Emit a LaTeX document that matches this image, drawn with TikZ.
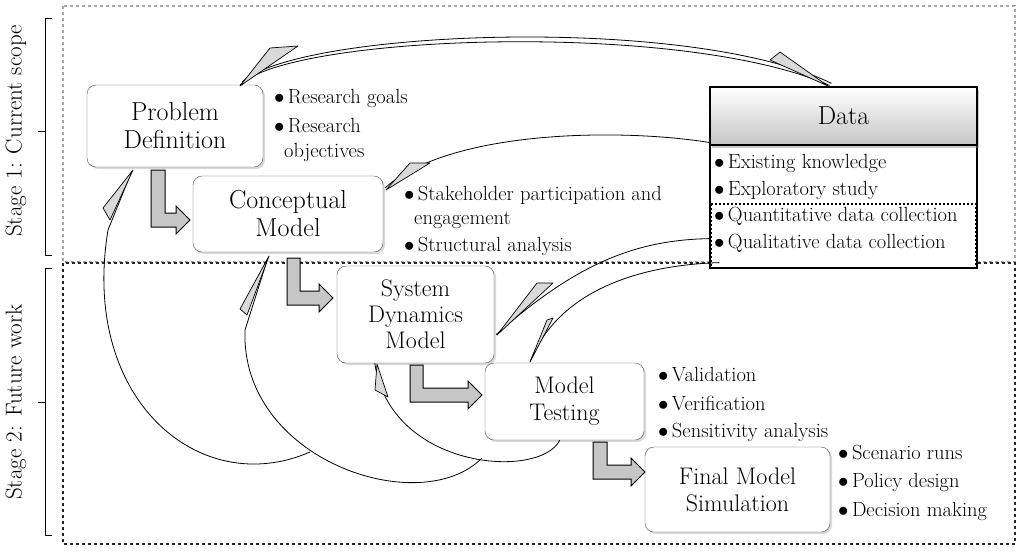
\documentclass[tikz,border=0pt]{standalone}
\usetikzlibrary{shadows,calc}
\begin{document}
\begin{tikzpicture}[x=1pt,y=-1pt,
  box/.style={draw=black!70,rounded corners=9pt,fill=white,align=center,inner sep=0pt,
    font=\fontsize{26}{28}\selectfont,drop shadow={shadow xshift=2pt,shadow yshift=-2pt,opacity=0.3}},
  bl/.style={anchor=west,font=\fontsize{20.5}{22}\selectfont,inner sep=0pt},
  tri/.style={fill=gray!30,draw=black,line width=0.7pt,line join=round},
  larr/.style={fill=gray!45,draw=black,line width=1pt},
  cur/.style={line width=0.8pt}]
\useasboundingbox (0,0) rectangle (1024,552);
% stage frames
\draw[gray!70,line width=2pt,dash pattern=on 3pt off 3pt] (63,6) rectangle (1015,262);
\draw[black!85,line width=2.4pt,dash pattern=on 3pt off 3pt] (63,263) rectangle (1015,544);
\draw[line width=0.8pt] (52,18)--(45,18)--(45,255)--(52,255) (38,131)--(45,131);
\draw[line width=0.8pt] (52,268)--(45,268)--(45,535)--(52,535) (38,402)--(45,402);
\node[rotate=90,font=\fontsize{23}{25}\selectfont] (s1) at (16,131) {Stage 1: Current scope};
\node[rotate=90,font=\fontsize{23}{25}\selectfont] (s2) at (16,402) {Stage 2: Future work};
% boxes
\node[box,minimum width=176pt,minimum height=82pt] (pd) at (175,126) {Problem\\Definition};
\node[box,minimum width=190pt,minimum height=76pt] (cm) at (288,214) {Conceptual\\Model};
\node[box,minimum width=157pt,minimum height=97pt,font=\fontsize{24}{26}\selectfont] (sdm) at (415.5,314.5) {System\\Dynamics\\Model};
\node[box,minimum width=159pt,minimum height=77pt,font=\fontsize{24}{27}\selectfont] (mt) at (564.5,401.5) {Model\\Testing};
\node[box,minimum width=185pt,minimum height=85pt,font=\fontsize{24}{27}\selectfont] (fms) at (737.5,489.5) {Final Model\\Simulation};
% data
\node[draw=black,line width=1.2pt,fill=white,minimum width=267pt,minimum height=181pt,inner sep=0pt] (data) at (843.5,177.5) {};
\node[draw=black,line width=1.2pt,top color=white,bottom color=gray!45,minimum width=267pt,minimum height=58pt,inner sep=0pt,font=\fontsize{26}{28}\selectfont,drop shadow={shadow xshift=2pt,shadow yshift=-3pt,opacity=0.4}] (dh) at (843.5,116) {Data};
\draw[line width=2pt,dash pattern=on 2pt off 2pt] (711,204) rectangle (976,268);
\node[bl] (d1) at (714,163) {$\bullet$\,Existing knowledge};
\node[bl] (d2) at (714,190) {$\bullet$\,Exploratory study};
\node[bl] (d3) at (714,216) {$\bullet$\,Quantitative data collection};
\node[bl] (d4) at (714,243) {$\bullet$\,Qualitative data collection};
% bullets
\node[bl] (b1) at (274,98) {$\bullet$\,Research goals};
\node[bl] (b2) at (274,126) {$\bullet$\,Research};
\node[bl] (b3) at (284,152) {objectives};
\node[bl] (b4) at (404,195) {$\bullet$\,Stakeholder participation and};
\node[bl] (b5) at (414,220) {engagement};
\node[bl] (b6) at (404,246) {$\bullet$\,Structural analysis};
\node[bl] (b7) at (658,375) {$\bullet$\,Validation};
\node[bl] (b8) at (658,403) {$\bullet$\,Verification};
\node[bl] (b9) at (658,432) {$\bullet$\,Sensitivity analysis};
\node[bl] (b10) at (838,452) {$\bullet$\,Scenario runs};
\node[bl] (b11) at (838,482) {$\bullet$\,Policy design};
\node[bl] (b12) at (838,511) {$\bullet$\,Decision making};
% L arrows
\filldraw[larr] (151,170)--(165,170)--(165,213)--(176,213)--(176,206)--(190,220)--(176,234)--(176,227)--(151,227)--cycle;
\filldraw[larr] (287,258)--(300,258)--(300,291)--(319,291)--(319,284)--(333,298)--(319,312)--(319,305)--(287,305)--cycle;
\filldraw[larr] (410,365)--(423,365)--(423,388)--(468,388)--(468,381)--(482,395)--(468,409)--(468,402)--(410,402)--cycle;
\filldraw[larr] (593,442)--(607,442)--(607,465)--(631,465)--(631,458)--(645,472)--(631,486)--(631,479)--(593,479)--cycle;
% feedback curves
\draw[cur] ($(pd.north east)+(-23,0)$) .. controls (290,35) and (680,20) .. ($(dh.north)+(-14,-1)$);
\draw[cur] ($(pd.north east)+(-21,-3)$) .. controls (300,30) and (690,14) .. ($(dh.north)+(-12,-3)$);
\draw[cur] ($(cm.north east)+(2,12)$) .. controls (450,130) and (620,128) .. ($(data.west)+(0,-35)$);
\draw[cur] ($(sdm.east)+(2,20)$) .. controls (580,260) and (640,240) .. ($(data.south west)+(0,-30)$);
\draw[cur] ($(mt.north west)+(46,-3)$) .. controls (560,290) and (640,265) .. ($(data.south west)+(10,-6)$);
\draw[cur] ($(mt.south west)+(75,0)$) .. controls (540,480) and (390,470) .. ($(sdm.south west)+(38,0)$);
\draw[cur] ($(mt.south west)+(-3,18)$) .. controls (420,520) and (240,460) .. (245,330) -- ($(cm.south west)+(75,6)$);
\draw[cur] (310,452) .. controls (200,500) and (80,400) .. (108,230) -- ($(pd.south west)+(45,4)$);
% markers
\filldraw[tri] (240,86)--(298,46)--(270,48)--cycle;
\filldraw[tri] (828,86)--(780,52)--(770,60)--cycle;
\filldraw[tri] (386,190)--(430,163)--(410,163)--cycle;
\filldraw[tri] (497,335)--(553,283)--(537,283)--cycle;
\filldraw[tri] (530,362)--(553,318)--(547,320)--cycle;
\filldraw[tri] (377,364)--(388,397)--(375,390)--cycle;
\filldraw[tri] (269,256)--(247,315)--(240,309)--cycle;
\filldraw[tri] (133,170)--(110,220)--(103,208)--cycle;
\end{tikzpicture}
\end{document}
